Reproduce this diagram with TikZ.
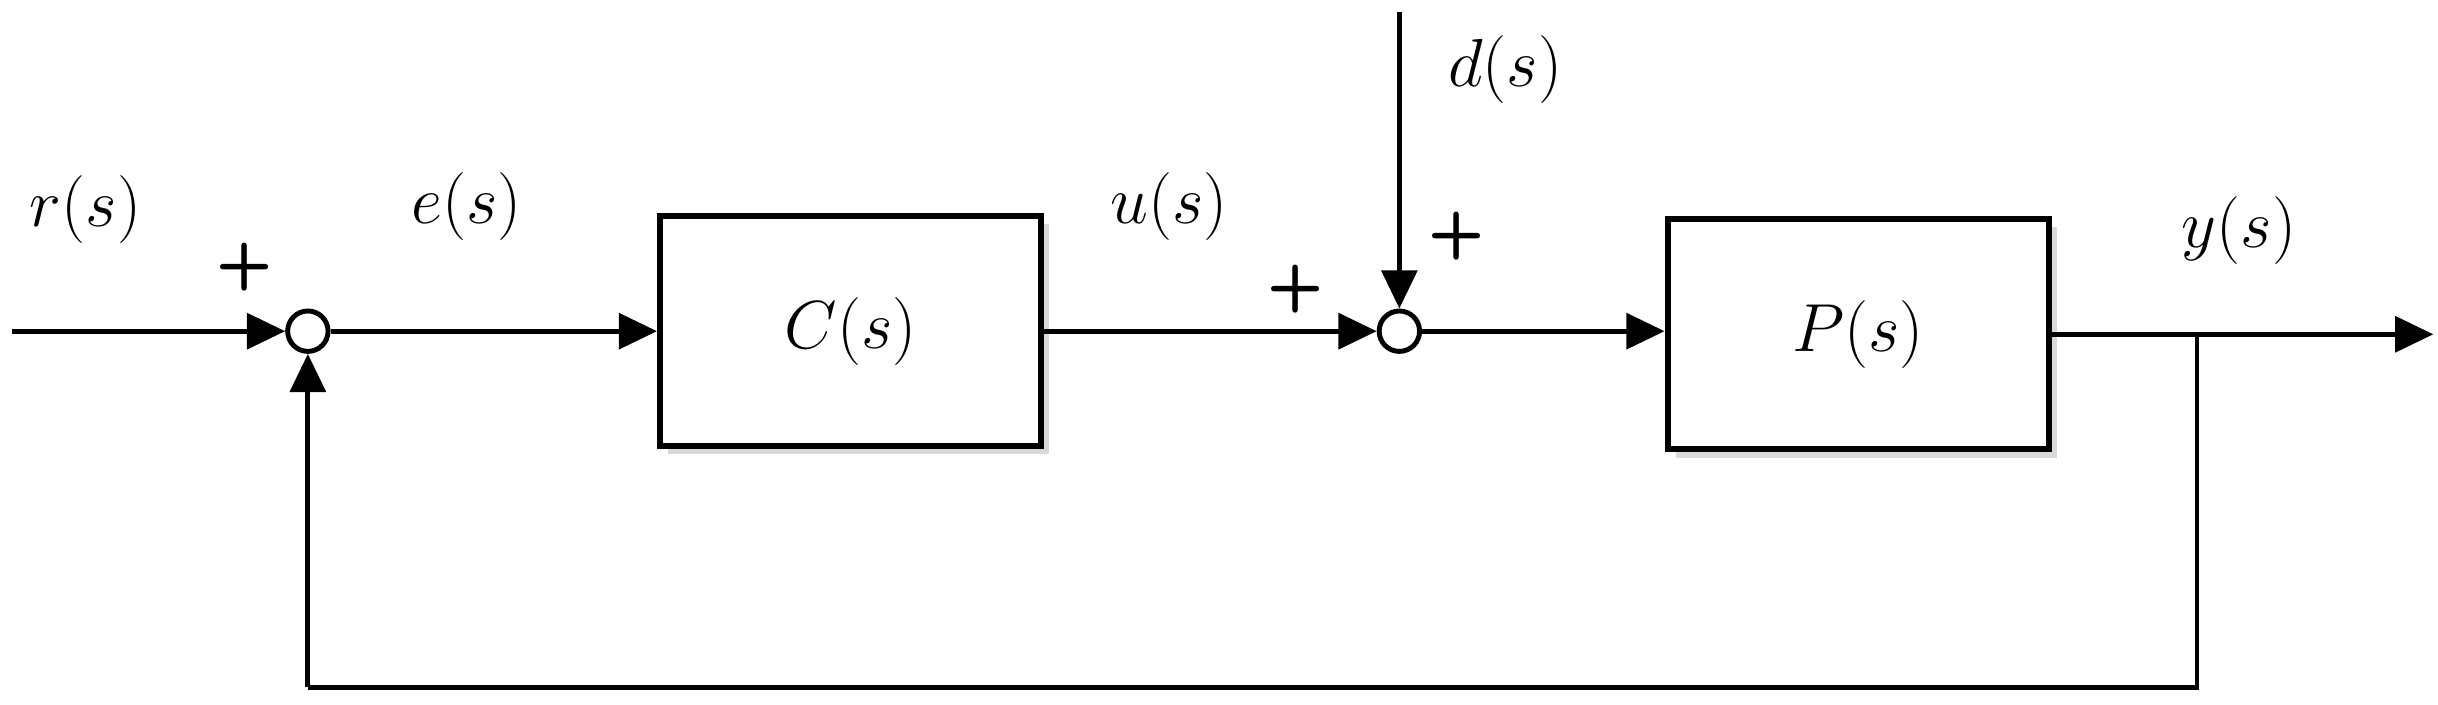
\documentclass[tikz,border=0pt]{standalone}
\usetikzlibrary{arrows.meta,shadows}
\begin{document}
\begin{tikzpicture}[x=0.02cm,y=-0.02cm,
  ln/.style={line width=1.8pt},
  ar/.style={ln,-{Triangle[length=14pt,width=13pt]}},
  blk/.style={draw,line width=2.2pt,fill=white,minimum width=245*0.02cm,minimum height=148*0.02cm,drop shadow={shadow xshift=3pt,shadow yshift=-3pt,opacity=0.3}},
  sm/.style={draw,circle,line width=1.8pt,fill=white,minimum size=26*0.02cm,inner sep=0pt},
  lab/.style={font=\fontsize{34}{40}\selectfont},
  pl/.style={font=\fontsize{24}{28}\selectfont\sffamily\bfseries}]
\useasboundingbox (0,0) rectangle (1568,453);
\node[blk] (C) at (547,213) {};
\node[lab] at (C) {$C(s)$};
\node[blk] (P) at (1195,215) {};
\node[lab] at (P) {$P(s)$};
\node[sm] (s1) at (198,213) {};
\node[sm] (s2) at (900,213) {};
\coordinate (in) at (8,213);
\coordinate (out) at (1565,215);
\coordinate (br) at (1413,215);
\coordinate (b1) at (1413,442);
\coordinate (b2) at (198,442);
\coordinate (dtop) at (900,8);
\draw[ar] (in) -- (s1);
\draw[ar] (s1) -- (C);
\draw[ar] (C.east|-s2) -- (s2);
\draw[ar] (s2) -- (P.west|-s2);
\draw[ar] (P.east|-out) -- (out);
\draw[ln] (br) -- (b1) -- (b2);
\draw[ar] (b2) -- (s1);
\draw[ar] (dtop) -- (s2);
\node[lab] (r) at (55,135) {$r(s)$};
\node[lab] (e) at (300,133) {$e(s)$};
\node[lab] (u) at (752,133) {$u(s)$};
\node[lab] (d) at (968,45) {$d(s)$};
\node[lab] (y) at (1440,148) {$y(s)$};
\node[pl] (p1) at (157,172) {+};
\node[pl] (p2) at (833,186) {+};
\node[pl] (p3) at (937,152) {+};
\end{tikzpicture}
\end{document}
